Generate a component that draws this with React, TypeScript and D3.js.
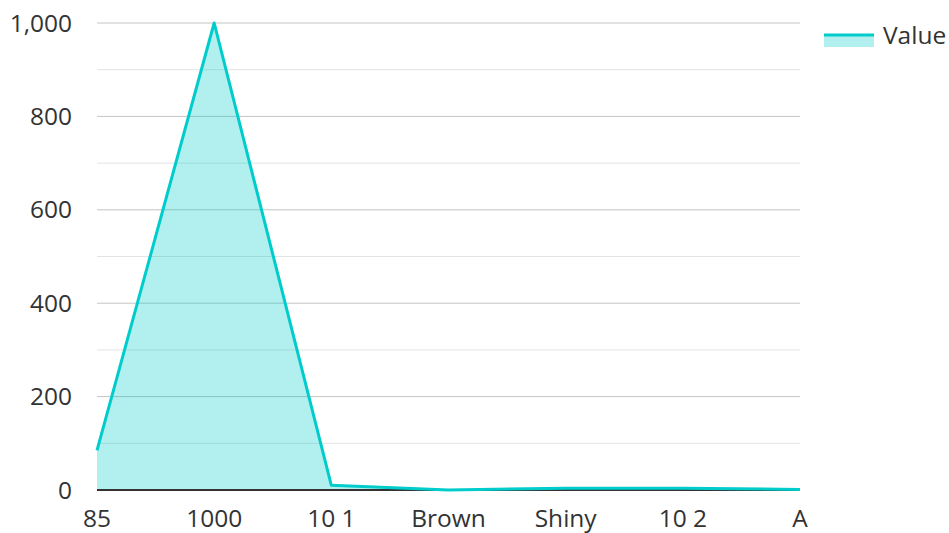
import React from "react";
import * as d3 from "d3";

const categories = ["85", "1000", "10 1", "Brown", "Shiny", "10 2", "A"];
const values = [85, 1000, 10, 0, 4, 4, 1];
const majorTicks = [0, 200, 400, 600, 800, 1000];
const minorTicks = [100, 300, 500, 700, 900];
const seriesName = "Value";

const W = 949;
const H = 533;
const M = { left: 97, right: 800, top: 23, bottom: 490 };
const LINE = "#00cccc";
const FONT = "'Open Sans', 'Noto Sans', sans-serif";
const FS = 24.5;

export default function App() {
  const x = d3.scalePoint<string>().domain(categories).range([M.left, M.right]).padding(0);
  const y = d3.scaleLinear().domain([0, 1000]).range([M.bottom, M.top]);
  const pts = categories.map((c, i) => [x(c) as number, y(values[i])] as [number, number]);
  const line = d3.line<[number, number]>().x((d) => d[0]).y((d) => d[1])(pts) || "";
  const area =
    d3
      .area<[number, number]>()
      .x((d) => d[0])
      .y0(y(0))
      .y1((d) => d[1])(pts) || "";
  const fmt = d3.format(",");
  return (
    <svg
      width={W}
      height={H}
      style={{ position: "absolute", left: 0, top: 0, background: "#fff" }}
      fontFamily={FONT}
    >
      {minorTicks.map((t) => (
        <line key={"m" + t} x1={M.left} x2={M.right} y1={y(t)} y2={y(t)} stroke="#e3e3e3" strokeWidth={1} />
      ))}
      {majorTicks.map((t) => (
        <line key={"M" + t} x1={M.left} x2={M.right} y1={y(t)} y2={y(t)} stroke="#c4c4c4" strokeWidth={1} />
      ))}
      <path d={area} fill={LINE} fillOpacity={0.3} />
      <line x1={M.left} x2={M.right} y1={y(0)} y2={y(0)} stroke="#333" strokeWidth={2} />
      <path d={line} fill="none" stroke={LINE} strokeWidth={3} strokeLinejoin="round" />
      {majorTicks.map((t) => (
        <text key={"t" + t} x={72} y={y(t)} dy="0.35em" textAnchor="end" fontSize={FS} fill="#333">
          {fmt(t)}
        </text>
      ))}
      {categories.map((c) => (
        <text key={"c" + c} x={x(c) as number} y={527} textAnchor="middle" fontSize={FS} fill="#333">
          {c}
        </text>
      ))}
      <g>
        <rect x={824} y={35} width={50} height={12} fill={LINE} fillOpacity={0.3} />
        <line x1={824} x2={874} y1={35} y2={35} stroke={LINE} strokeWidth={3} />
        <text x={883} y={44} fontSize={FS} fill="#333">
          {seriesName}
        </text>
      </g>
    </svg>
  );
}
